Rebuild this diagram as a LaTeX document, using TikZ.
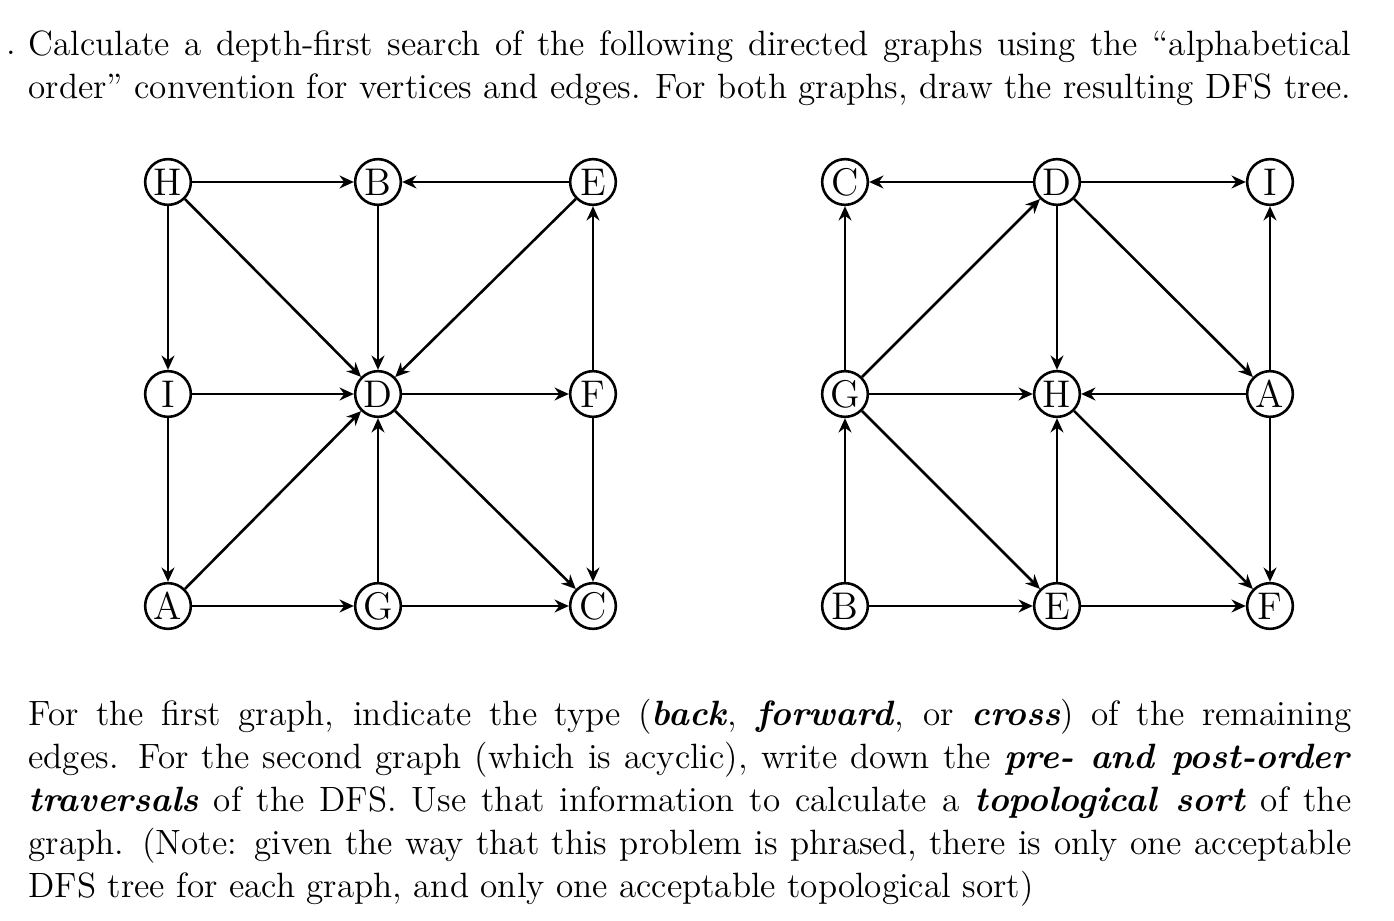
\documentclass[tikz,border=0pt]{standalone}
\usetikzlibrary{arrows.meta}
\begin{document}
\begin{tikzpicture}[x=0.35pt,y=-0.35pt,
  v/.style={circle,draw,line width=0.9pt,minimum size=16pt,inner sep=0pt,font=\fontsize{13.5}{13.5}\selectfont},
  e/.style={line width=0.9pt,-{Stealth[length=5pt,width=4.5pt]}},
  para/.style={anchor=north west,text width=463pt,align=justify,inner sep=0pt,font=\fontsize{12.3}{15}\selectfont}]
\useasboundingbox (0,0) rectangle (1394,921);
\node[anchor=base west,inner sep=0pt,font=\fontsize{12.3}{15}\selectfont] (dot) at (6,55) {.};
\node[para] (p1) at (28,30) {\parfillskip=0pt Calculate a depth-first search of the following directed graphs using the ``alphabetical order'' convention for vertices and edges. For both graphs, draw the resulting DFS tree.};
% graph 1
\node[v] (H) at (168,182) {H};
\node[v] (B) at (378,182) {B};
\node[v] (E) at (593,182) {E};
\node[v] (I) at (168,394) {I};
\node[v] (D) at (378,394) {D};
\node[v] (F) at (593,394) {F};
\node[v] (A) at (168,606) {A};
\node[v] (G) at (378,606) {G};
\node[v] (C) at (593,606) {C};
\foreach \a/\b in {H/B,E/B,H/I,H/D,B/D,E/D,I/D,D/F,F/E,F/C,I/A,A/D,G/D,D/C,A/G,G/C}
  \draw[e] (\a) -- (\b);
% graph 2
\node[v] (C2) at (845,182) {C};
\node[v] (D2) at (1057,182) {D};
\node[v] (I2) at (1270,182) {I};
\node[v] (G2) at (845,394) {G};
\node[v] (H2) at (1057,394) {H};
\node[v] (A2) at (1270,394) {A};
\node[v] (B2) at (845,606) {B};
\node[v] (E2) at (1057,606) {E};
\node[v] (F2) at (1270,606) {F};
\foreach \a/\b in {D2/C2,D2/I2,G2/C2,G2/D2,D2/H2,D2/A2,A2/I2,G2/H2,A2/H2,G2/E2,E2/H2,H2/F2,A2/F2,B2/G2,B2/E2,E2/F2}
  \draw[e] (\a) -- (\b);
\node[para] (p2) at (28,699) {For the first graph, indicate the type (\textbf{\textit{back}}, \textbf{\textit{forward}}, or \textbf{\textit{cross}}) of the remaining\linebreak edges. For the second graph (which is acyclic), write down the \textbf{\textit{pre- and post-order}}\linebreak \textbf{\textit{traversals}} of the DFS. Use that information to calculate a \textbf{\textit{topological sort}} of the\linebreak graph. (Note: given the way that this problem is phrased, there is only one acceptable\linebreak DFS tree for each graph, and only one acceptable topological sort)};
\end{tikzpicture}
\end{document}
